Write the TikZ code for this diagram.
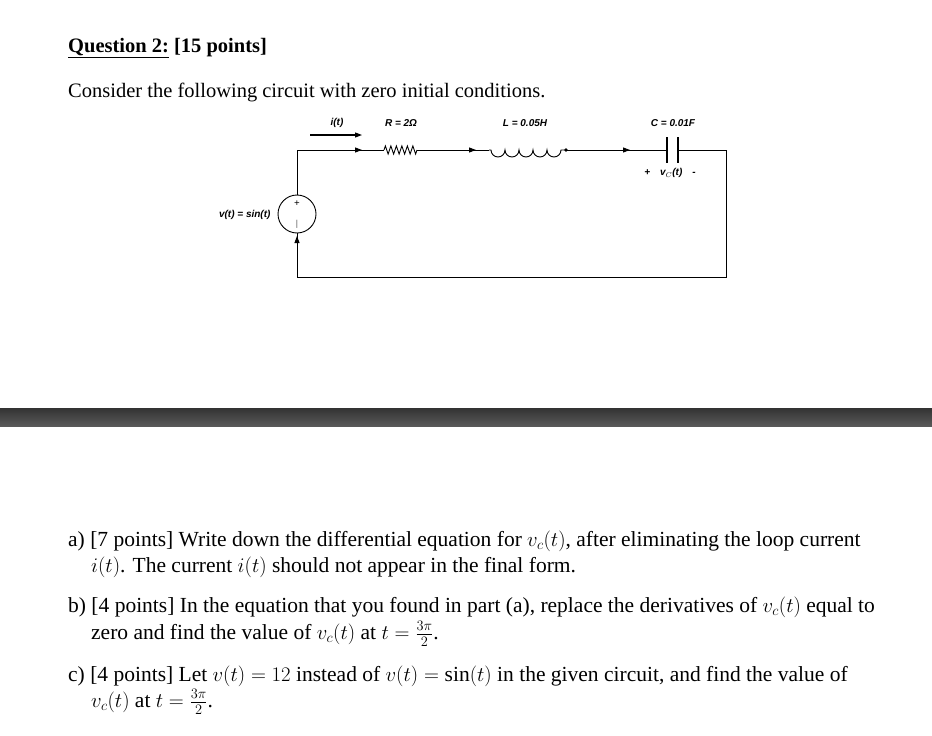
\documentclass[tikz,border=0pt]{standalone}
\usepackage{fontspec}
\setmainfont{Liberation Serif}
\newfontfamily\lab{Liberation Sans}
\usetikzlibrary{arrows.meta,decorations.pathmorphing}
\tikzset{
  wire/.style={line width=0.9pt},
  ar/.style={-{Triangle[length=7pt,width=5pt]}},
  clab/.style={font=\lab\fontsize{10}{11}\selectfont\bfseries\itshape},
  qtext/.style={anchor=base west,inner sep=0pt,font=\fontsize{21.5}{23}\selectfont}
}
\begin{document}
\begin{tikzpicture}[x=1pt,y=-1pt]
\useasboundingbox (0,0) rectangle (932,736);
\shade[top color=black!80,bottom color=black!65] (0,408) rectangle (932,426);
% title
\node[qtext,font=\fontsize{20.5}{22}\selectfont\bfseries] (title) at (68,52) {\underline{Question 2:} [15 points]};
\node[qtext,font=\fontsize{20.5}{22}\selectfont] (intro) at (68,97) {Consider the following circuit with zero initial conditions.};
% circuit
\node[circle,draw,wire,minimum size=38pt,inner sep=0pt] (src) at (297,214) {};
\node[font=\fontsize{10}{10}\selectfont\bfseries] at (297,204) {+};
\node[font=\fontsize{9}{9}\selectfont] at (297,224) {|};
\coordinate (tl) at (297,150);
\coordinate (bl) at (297,277);
\coordinate (tr) at (726,150);
\coordinate (br) at (726,277);
\coordinate (a1) at (362,150);
\coordinate (r1) at (384,150);
\coordinate (r2) at (417,150);
\coordinate (a2) at (476,150);
\coordinate (l1) at (489,150);
\coordinate (l2) at (566,150);
\coordinate (a3) at (630,150);
\coordinate (c1) at (667,150);
\coordinate (c2) at (677,150);
\draw[wire] (src.north) -- (tl) -- (r1);
\draw[wire,ar] (tl) -- (a1);
\draw[wire,decorate,decoration={zigzag,segment length=5.5pt,amplitude=4pt}] (r1) -- (r2);
\draw[wire] (r2) -- (l1);
\draw[wire,ar] (r2) -- (a2);
\draw[wire] (l1) -- ++(2,0) arc (180:0:7) arc (180:0:7) arc (180:0:7) arc (180:0:7) arc (180:0:7) -- (l2);
\fill (l2) circle (1.8);
\draw[wire] (l2) -- (c1);
\draw[wire,ar] (l2) -- (a3);
\draw[line width=1.4pt] (667,137) -- (667,163) (678,137) -- (678,163);
\draw[wire] (c2) ++(1,0) -- (tr) -- (br) -- (bl) -- (src.south);
\draw[wire,ar] (bl) -- (297,236);
% labels
\draw[line width=1.1pt,ar] (310,135) -- (362,135);
\node[clab] (il) at (337,123) {i(t)};
\node[clab] (rl) at (401,123) {R = 2Ω};
\node[clab] (ll) at (525,123) {L = 0.05H};
\node[clab] (cl) at (673,123) {C = 0.01F};
\node[clab] (vcl) at (670,173) {+\quad v$_C$(t)\quad -};
\node[clab,anchor=east] (vs) at (274,215) {v(t) = sin(t)};
% questions
\node[qtext] at (68,546) {a) [7 points] Write down the differential equation for $v_c(t)$, after eliminating the loop current};
\node[qtext] at (91,572) {$i(t)$. The current $i(t)$ should not appear in the final form.};
\node[qtext] at (68,612) {b) [4 points] In the equation that you found in part (a), replace the derivatives of $v_c(t)$ equal to};
\node[qtext] at (91,639) {zero and find the value of $v_c(t)$ at $t=\frac{3\pi}{2}$.};
\node[qtext] at (68,681) {c) [4 points] Let $v(t)=12$ instead of $v(t)=\sin(t)$ in the given circuit, and find the value of};
\node[qtext] at (91,707) {$v_c(t)$ at $t=\frac{3\pi}{2}$.};
\end{tikzpicture}
\end{document}
